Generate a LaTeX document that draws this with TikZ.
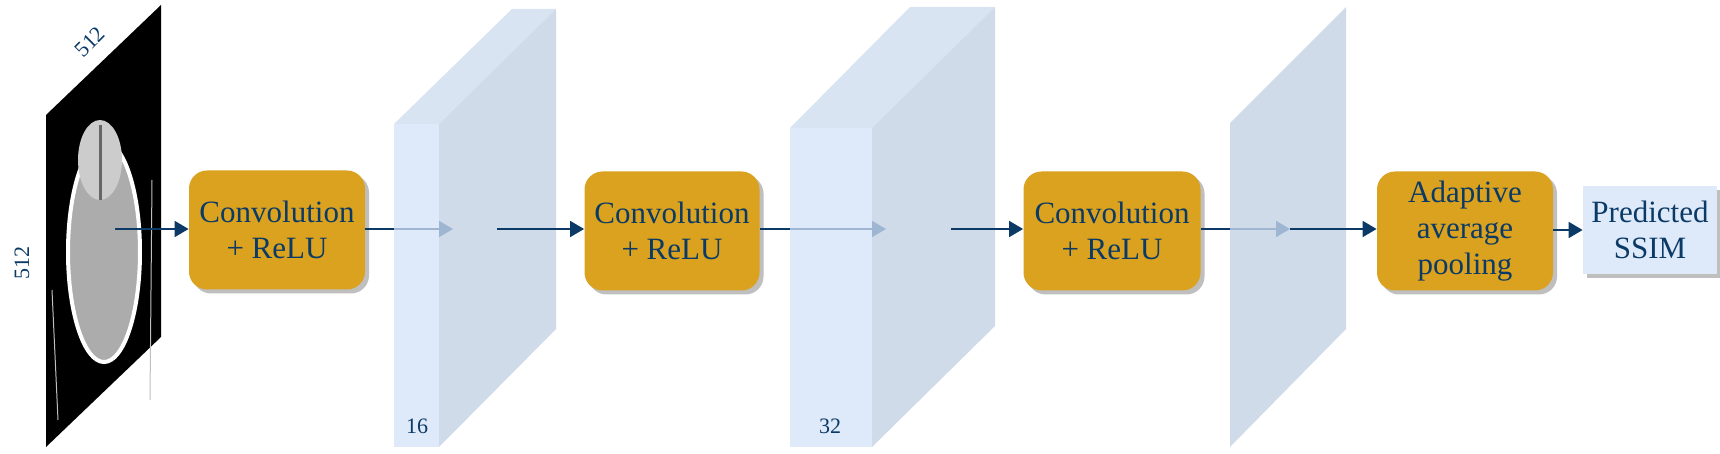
\documentclass[tikz,border=0pt]{standalone}
\usepackage{fontspec}
\setmainfont{Liberation Serif}
\usetikzlibrary{shadows,arrows.meta}
\definecolor{navy}{HTML}{0B3A66}
\definecolor{gold}{HTML}{DAA21E}
\definecolor{front}{HTML}{DEEAF9}
\definecolor{side}{HTML}{CFDBE9}
\definecolor{topc}{HTML}{D8E4F2}
\definecolor{lightarr}{HTML}{9FB6D2}
\tikzset{
  opbox/.style={fill=gold, rounded corners=9pt, text=navy, align=center, font=\fontsize{15.5}{18}\selectfont,
    drop shadow={shadow xshift=2pt, shadow yshift=-2pt, fill=black!25, opacity=1}},
  conn/.style={draw=navy, line width=0.9pt, -{Triangle[length=7pt,width=8pt]}},
  lconn/.style={draw=lightarr, line width=0.9pt, -{Triangle[length=7pt,width=8pt]}},
  lbl/.style={text=navy, font=\fontsize{11}{13}\selectfont, inner sep=0pt}
}
\begin{document}
\begin{tikzpicture}[x=0.5pt,y=-0.5pt]
\useasboundingbox (0,0) rectangle (1720,454);
% input slice
\fill[black] (46,115) -- (161,5) -- (161,337) -- (46,447) -- cycle;
\fill[gray!65] (104,250) ellipse (36 and 112);
\draw[white, line width=2pt] (104,252) ellipse (36 and 110);
\fill[gray!40] (100,160) ellipse (22 and 40);
\draw[black!60, line width=1.5pt] (100,125) -- (100,200);
\draw[white!75!black, line width=0.5pt] (152,180) -- (150,400);
\draw[white!75!black, line width=0.5pt] (52,290) -- (58,420);
\node[lbl, rotate=45] (l1) at (90,42) {512};
\node[lbl, rotate=90] (l2) at (22,263) {512};
\coordinate (in) at (115,229);
% conv1
\node[opbox, minimum width=176*0.5pt, minimum height=119*0.5pt] (c1) at (277,230) {Convolution\\+ ReLU};
% block1
\fill[topc] (394,124) -- (512,9) -- (556,9) -- (439,124) -- cycle;
\fill[side] (439,124) -- (556,9) -- (556,329) -- (439,447) -- cycle;
\fill[front] (394,124) rectangle (439,447);
\node[lbl] (n16) at (417,426) {16};
\coordinate (b1a) at (453,229);
\coordinate (b1b) at (497,229);
% conv2
\node[opbox, minimum width=175*0.5pt, minimum height=119*0.5pt] (c2) at (672,231) {Convolution\\+ ReLU};
% block2
\fill[topc] (790,128) -- (910,7) -- (995,7) -- (872,128) -- cycle;
\fill[side] (872,128) -- (995,7) -- (995,326) -- (872,447) -- cycle;
\fill[front] (790,128) rectangle (872,447);
\node[lbl] (n32) at (830,426) {32};
\coordinate (b2a) at (886,229);
\coordinate (b2b) at (951,229);
% conv3
\node[opbox, minimum width=177*0.5pt, minimum height=119*0.5pt] (c3) at (1112,231) {Convolution\\+ ReLU};
% block3
\fill[side] (1230,123) -- (1346,7) -- (1346,329) -- (1230,447) -- cycle;
\coordinate (b3a) at (1290,229);
% pooling
\node[opbox, minimum width=176*0.5pt, minimum height=119*0.5pt] (p) at (1465,231) {Adaptive\\average\\pooling};
% ssim
\node[fill=front, text=navy, align=center, font=\fontsize{15.5}{18}\selectfont, minimum width=134*0.5pt, minimum height=88*0.5pt,
  drop shadow={shadow xshift=2pt, shadow yshift=-2pt, fill=black!25, opacity=1}] (s) at (1650,230) {Predicted\\SSIM};
% connectors
\draw[conn] (in) -- (in -| c1.west);
\draw[navy, line width=0.9pt] (c1.east |- in) -- (394,229);
\draw[lconn] (394,229) -- (b1a);
\draw[conn] (b1b) -- (b1b -| c2.west);
\draw[navy, line width=0.9pt] (c2.east |- in) -- (790,229);
\draw[lconn] (790,229) -- (b2a);
\draw[conn] (b2b) -- (b2b -| c3.west);
\draw[navy, line width=0.9pt] (c3.east |- in) -- (1230,229);
\draw[lconn] (1230,229) -- (b3a);
\draw[conn] (b3a) -- (b3a -| p.west);
\draw[conn] (p.east |- s.west) -- (s.west);
\end{tikzpicture}
\end{document}
